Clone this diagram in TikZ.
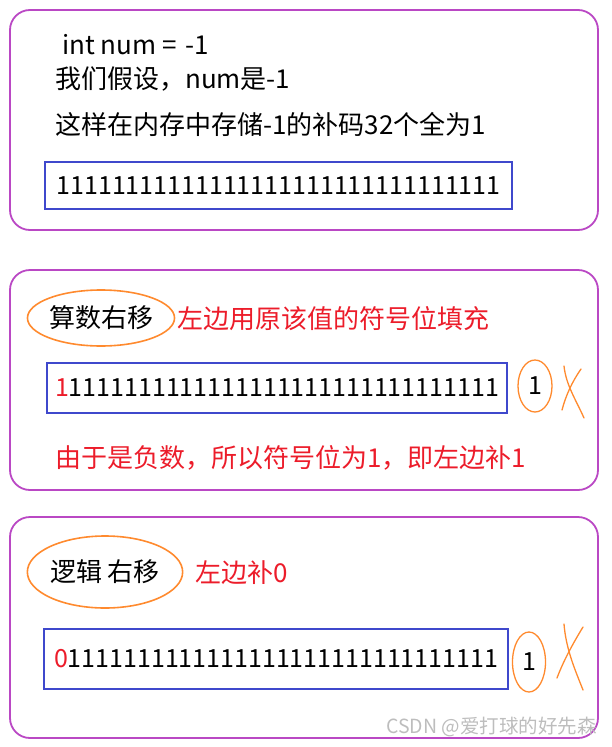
\documentclass[tikz,border=0pt]{standalone}
\usepackage{fontspec}
\setmainfont{Noto Sans CJK SC}
\usetikzlibrary{shapes.geometric}
\definecolor{pur}{HTML}{BA48C4}
\definecolor{blu}{HTML}{3F48CC}
\definecolor{org}{HTML}{FF8A2E}
\definecolor{rd}{HTML}{EC1C2A}
\definecolor{wm}{HTML}{BDBDBD}
\begin{document}
\begin{tikzpicture}[x=1pt,y=1pt,
  outerbox/.style={draw=pur, line width=1.8pt, rounded corners=20pt, inner sep=0pt, minimum width=588pt},
  txt/.style={anchor=west, font=\fontsize{26}{30}\selectfont, inner sep=0pt},
  redtxt/.style={txt, text=rd},
  bitbox/.style={draw=blu, line width=1.6pt, inner sep=0pt, font=\fontsize{25}{28}\selectfont},
  oval/.style={ellipse, draw=org, line width=1.6pt, inner sep=0pt, font=\fontsize{26}{30}\selectfont},
  blob/.style={ellipse, draw=org, line width=1.3pt, inner sep=0pt, font=\fontsize{25}{28}\selectfont},
  cross/.style={draw=org, line width=1.3pt, line cap=round}]
\useasboundingbox (0,0) rectangle (611,-747);

% box 1
\node[outerbox, minimum height=220pt] (b1) at (304,-120) {};
\node[txt] (t1) at (62,-45) {int num =\hspace{0.35em}-1};
\node[txt] (t2) at (55,-79) {我们假设，num是-1};
\node[txt] (t3) at (55,-125) {这样在内存中存储-1的补码32个全为1};
\node[bitbox, minimum width=467pt, minimum height=47pt] (bits1) at (278.5,-185.5) {11111111111111111111111111111111};

% box 2
\node[outerbox, minimum height=220pt] (b2) at (304,-380) {};
\node[oval, minimum width=142pt, minimum height=56pt] (arith) at (101,-318) {算数右移};
\node[redtxt] (r1) at (177,-319) {左边用原该值的符号位填充};
\node[bitbox, minimum width=460pt, minimum height=50pt] (bits2) at (277,-388) {\textcolor{rd}{1}1111111111111111111111111111111};
\node[blob, minimum width=34pt, minimum height=52pt] (out2) at (535,-386) {1};
\draw[cross] (581,-369) .. controls (572,-382) and (566,-395) .. (562,-410);
\draw[cross] (564,-366) .. controls (566,-385) and (576,-400) .. (584,-418);
\node[redtxt] (r2) at (55,-458) {由于是负数，所以符号位为1，即左边补1};

% box 3
\node[outerbox, minimum height=221pt] (b3) at (304,-627.5) {};
\node[oval, minimum width=146pt, minimum height=72pt] (logic) at (105,-572) {逻辑 右移};
\node[redtxt] (r3) at (195,-573) {左边补0};
\node[bitbox, minimum width=464pt, minimum height=60pt] (bits3) at (276,-659) {\textcolor{rd}{0}1111111111111111111111111111111};
\node[blob, minimum width=33pt, minimum height=60pt] (out3) at (529,-662) {1};
\draw[cross] (583,-627) .. controls (572,-645) and (563,-662) .. (557,-678);
\draw[cross] (564,-624) .. controls (566,-650) and (576,-672) .. (583,-690);

\node[anchor=east, inner sep=0pt, text=wm, font=\fontsize{19.5}{22}\selectfont] (wmk) at (597,-727) {CSDN @爱打球的好先森};
\end{tikzpicture}
\end{document}
